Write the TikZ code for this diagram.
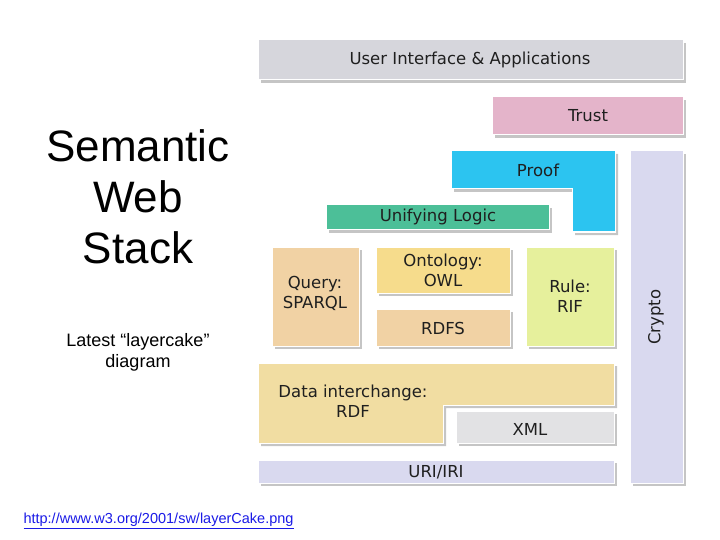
\documentclass[tikz,border=0pt]{standalone}
\usepackage{fontspec}
\setmainfont{Liberation Sans}
\newfontfamily\layerfont{DejaVu Sans}
\usetikzlibrary{shadows}
\definecolor{uigray}{HTML}{D6D6DC}
\definecolor{trustpink}{HTML}{E4B4CA}
\definecolor{proofcyan}{HTML}{2CC4F0}
\definecolor{cryptolav}{HTML}{D9D9EF}
\definecolor{logicgreen}{HTML}{4CBF98}
\definecolor{querytan}{HTML}{F1D2A4}
\definecolor{owlyellow}{HTML}{F6DC8C}
\definecolor{rifgreen}{HTML}{E6F09C}
\definecolor{rdftan}{HTML}{F1DDA2}
\definecolor{xmlgray}{HTML}{E2E2E4}
\definecolor{linkblue}{HTML}{1A1AE6}
\begin{document}
\begin{tikzpicture}[x=1pt,y=-1pt]
  \tikzset{layer/.style={draw=white,line width=1pt,drop shadow={shadow xshift=3pt,shadow yshift=-3pt,fill=black!45}},
    lbl/.style={font=\layerfont\fontsize{16.5}{20}\selectfont,text=black!88,align=center,inner sep=0pt}}
  \useasboundingbox (0,0) rectangle (720,540);

  % title
  \node[font=\fontsize{44}{51}\selectfont,align=center] (title) at (138,197) {Semantic\\Web\\Stack};
  \node[font=\fontsize{18}{21}\selectfont,align=center] (sub) at (138,352) {Latest “layercake”\\diagram};
  \node[font=\fontsize{14.5}{16}\selectfont,text=linkblue,anchor=west] (url) at (20,521)
    {\underline{http://www.w3.org/2001/sw/layerCake.png}};

  % layers
  \path[layer,fill=uigray] (258,40) rectangle (683,80);
  \node[lbl] (ui) at (470,60) {User Interface \& Applications};

  \path[layer,fill=trustpink] (492,97) rectangle (683,135);
  \node[lbl] (trust) at (588,116) {Trust};

  \path[layer,fill=proofcyan] (451,151) -- (615,151) -- (615,232) -- (572,232) -- (572,189) -- (451,189) -- cycle;
  \node[lbl] (proof) at (538,170) {Proof};

  \path[layer,fill=cryptolav] (630,151) rectangle (683,483);
  \node[lbl,rotate=90] (crypto) at (656,317) {Crypto};

  \path[layer,fill=logicgreen] (326,205) rectangle (549,230);
  \node[lbl] (logic) at (438,217) {Unifying Logic};

  \path[layer,fill=querytan] (272,247) rectangle (359,346);
  \node[lbl] (query) at (315,293) {Query:\\SPARQL};

  \path[layer,fill=owlyellow] (376,247) rectangle (510,293);
  \node[lbl] (owl) at (443,270) {Ontology:\\OWL};

  \path[layer,fill=querytan] (376,309) rectangle (510,346);
  \node[lbl] (rdfs) at (443,328) {RDFS};

  \path[layer,fill=rifgreen] (526,247) rectangle (614,346);
  \node[lbl] (rif) at (570,296) {Rule:\\RIF};

  \path[layer,fill=rdftan] (258,363) -- (614,363) -- (614,405) -- (443,405) -- (443,443) -- (258,443) -- cycle;
  \node[lbl] (rdf) at (353,401) {Data interchange:\\RDF};

  \path[layer,fill=xmlgray] (456,411) rectangle (614,443);
  \node[lbl] (xml) at (530,429) {XML};

  \path[layer,fill=cryptolav] (258,460) rectangle (614,483);
  \node[lbl] (uri) at (436,472) {URI/IRI};
\end{tikzpicture}
\end{document}
